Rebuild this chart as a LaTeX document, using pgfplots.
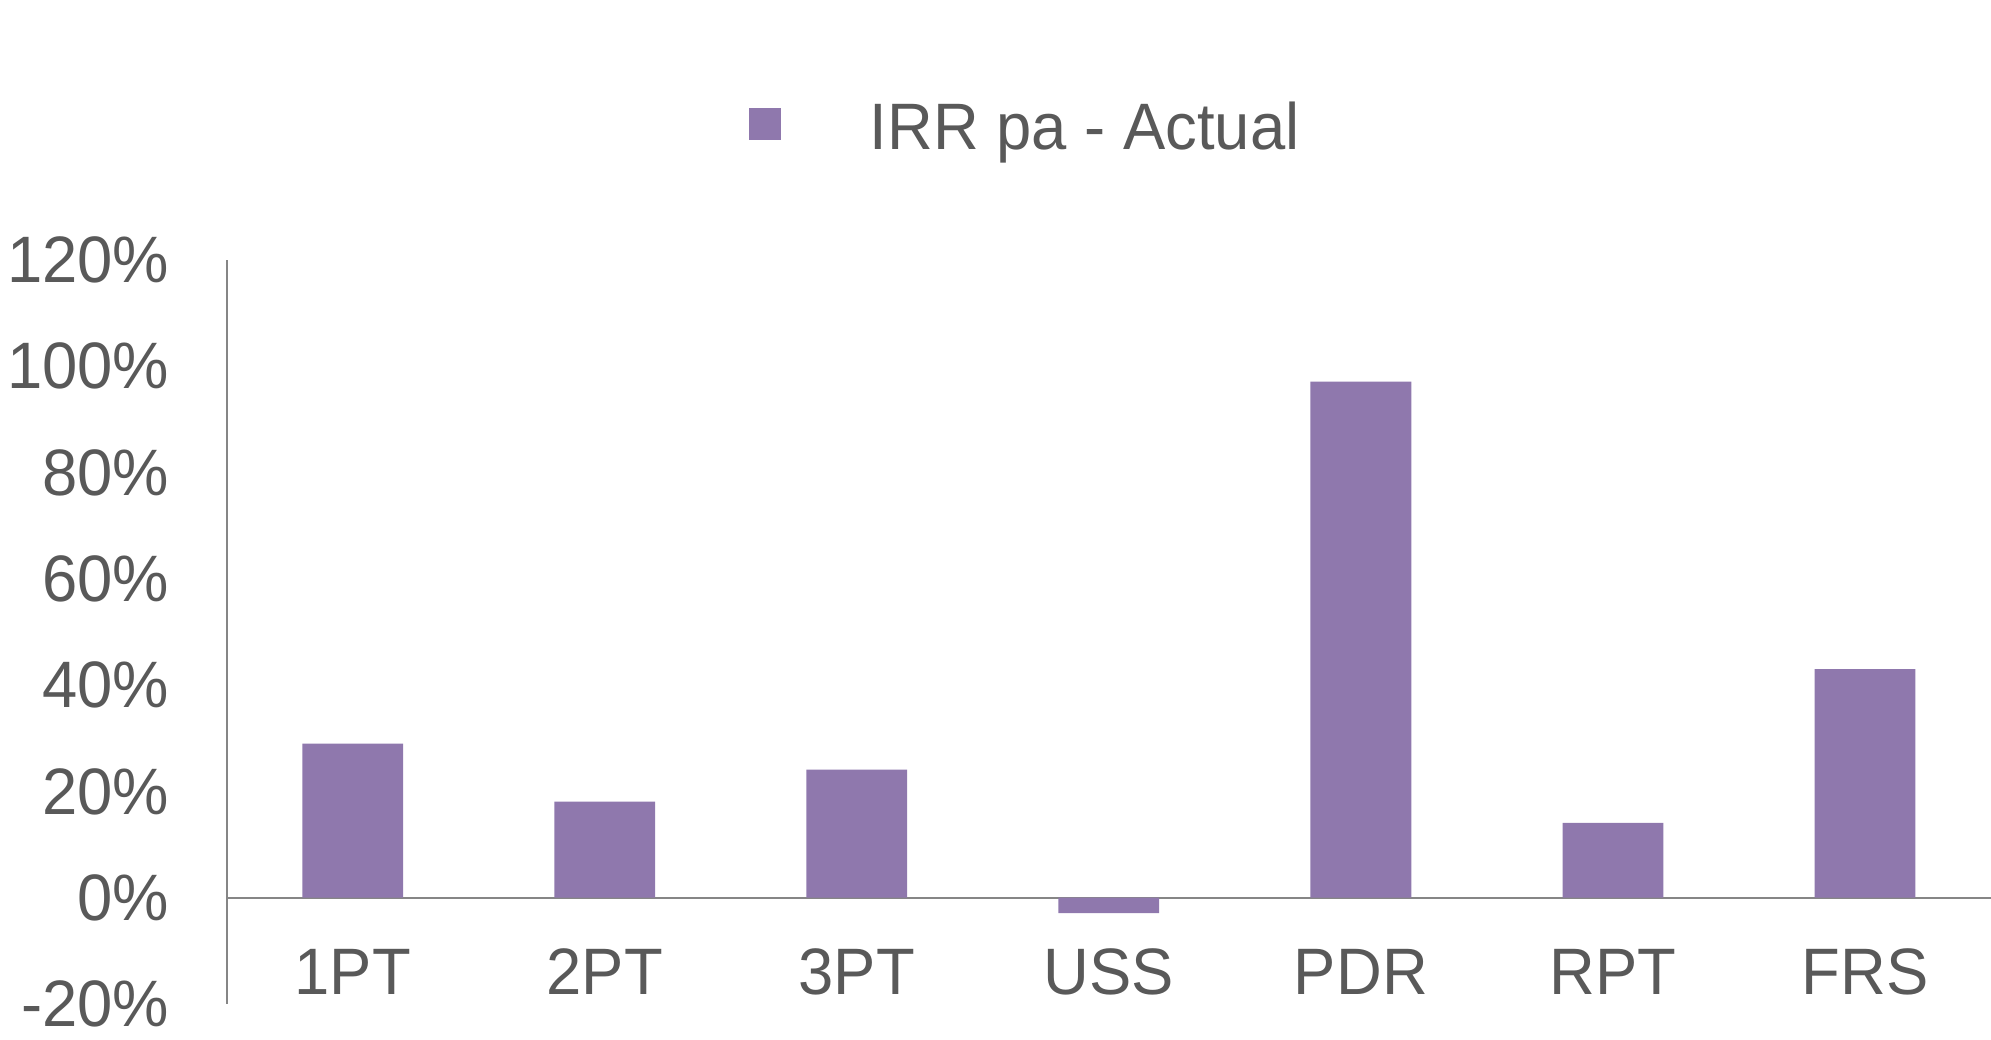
\documentclass[border=0pt]{standalone}
\usepackage{fontspec}
\setmainfont[FakeStretch=0.965]{Liberation Sans}
\usepackage{pgfplots}
\pgfplotsset{compat=1.18}
\definecolor{barcol}{HTML}{8F78AD}
\definecolor{txtcol}{HTML}{595959}
\definecolor{axcol}{HTML}{868686}
\begin{document}
\begin{tikzpicture}
\useasboundingbox (0,0) rectangle (597.3pt,312pt);
\begin{axis}[
  scale only axis,
  width=529.3pt, height=223.2pt,
  at={(68pt,10.8pt)}, anchor=south west,
  xmin=-0.5, xmax=6.5, ymin=-20, ymax=120,
  ybar, bar width=0.4,
  axis lines*=left,
  axis line style={-},
  x axis line style={draw=none},
  y axis line style={draw=axcol, line width=0.6pt},
  major tick length=0pt,
  tick style={draw=none},
  xtick={0,1,2,3,4,5,6},
  xticklabels={1PT,2PT,3PT,USS,PDR,RPT,FRS},
  ytick={-20,0,20,40,60,80,100,120},
  yticklabels={-20\%,0\%,20\%,40\%,60\%,80\%,100\%,120\%},
  xticklabel style={anchor=base, inner sep=0pt, yshift=2.7pt, font=\fontsize{19.7}{23}\selectfont, text=txtcol},
  yticklabel style={anchor=east, inner sep=0pt, xshift=-17pt, font=\fontsize{19.7}{23}\selectfont, text=txtcol},
  extra y ticks={0},
  extra y tick labels={},
  extra y tick style={grid=major, major grid style={draw=axcol, line width=0.6pt}, tick style={draw=none}},
  legend style={at={(0.296,1.177)}, anchor=west, draw=none, fill=none, inner sep=0pt, outer sep=0pt,
    font=\fontsize{19.7}{23}\selectfont, text=txtcol,
    nodes={inner sep=0pt},
    /tikz/every odd column/.style={column sep=26.7pt}},
  legend image code/.code={\fill[barcol] (0pt,-3.63pt) rectangle (9.6pt,5.97pt);},
]
\addplot[fill=barcol, draw=none] coordinates {(0,29.0) (1,18.1) (2,24.1) (3,-2.9) (4,97.1) (5,14.1) (6,43.0)};
\addlegendentry{IRR pa - Actual}
\end{axis}
\end{tikzpicture}
\end{document}
